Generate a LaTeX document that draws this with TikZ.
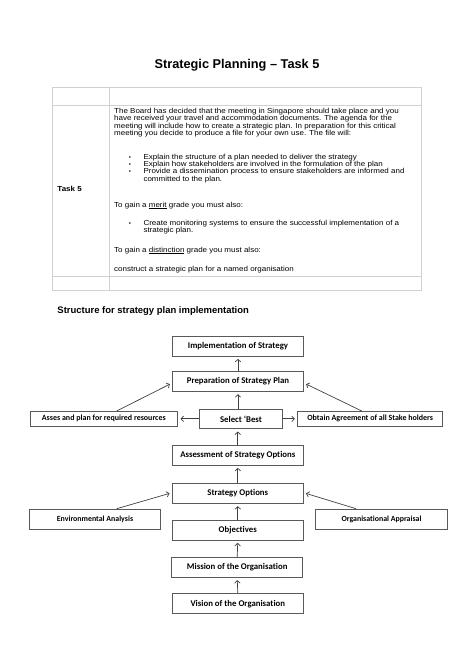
\documentclass[tikz,border=0pt]{standalone}
\usepackage{fontspec}
\setmainfont{Liberation Sans}
\newfontfamily\bodyfont[FakeStretch=1.1]{Liberation Sans}
\newfontfamily\calib[Ligatures=NoCommon]{Carlito}
\usetikzlibrary{arrows.meta}
\definecolor{tblline}{gray}{0.82}
\definecolor{boxline}{gray}{0.35}
\definecolor{arrline}{gray}{0.25}
\tikzset{
  bodytxt/.style={anchor=base west, inner sep=0pt, font=\bodyfont\fontsize{7.3}{8.5}\selectfont},
  bultxt/.style={anchor=base, inner sep=0pt, font=\fontsize{6}{8}\selectfont},
  flowbox/.style={draw=boxline, line width=0.7bp, inner sep=0pt, text=black,
    font=\calib\bfseries\fontsize{8.8}{11}\selectfont, minimum height=20bp, minimum width=131bp},
  smallbox/.style={flowbox, minimum height=15bp, font=\calib\bfseries\fontsize{8}{9}\selectfont},
  sidebox/.style={flowbox, minimum height=20.3bp, minimum width=131.4bp, font=\calib\bfseries\fontsize{7.9}{9}\selectfont},
  flowarr/.style={draw=arrline, line width=0.7bp, -{Straight Barb[length=2.6bp,width=5.5bp]}, shorten >=2.5bp},
}
\begin{document}
\begin{tikzpicture}[x=1bp,y=-1bp]
\useasboundingbox[fill=white] (0,0) rectangle (474,670);
% title
\node[anchor=base, inner sep=0pt, font=\bfseries\fontsize{12.8}{15}\selectfont] (title) at (237,69) {Strategic Planning – Task 5};
% table
\coordinate (tl) at (52.3,87.7);
\coordinate (br) at (421.7,290);
\draw[tblline, line width=0.6bp] (tl) rectangle (br);
\draw[tblline, line width=0.6bp] (109.3,87.7) -- (109.3,290);
\draw[tblline, line width=0.6bp] (52.3,105) -- (421.7,105);
\draw[tblline, line width=0.6bp] (52.3,276) -- (421.7,276);
\node[bodytxt, font=\bodyfont\bfseries\fontsize{7.3}{9}\selectfont] (task) at (57.3,191.7) {Task 5};
\node[bodytxt] (l1) at (114,113.3) {The Board has decided that the meeting in Singapore should take place and you};
\node[bodytxt] (l2) at (114,120.7) {have received your travel and accommodation documents. The agenda for the};
\node[bodytxt] (l3) at (114,128.1) {meeting will include how to create a strategic plan. In preparation for this critical};
\node[bodytxt] (l4) at (114,135.5) {meeting you decide to produce a file for your own use. The file will:};
\node[bultxt] (b1) at (130,159) {•};
\node[bodytxt] (t1) at (143.3,159) {Explain the structure of a plan needed to deliver the strategy};
\node[bultxt] (b2) at (130,166.4) {•};
\node[bodytxt] (t2) at (143.3,166.4) {Explain how stakeholders are involved in the formulation of the plan};
\node[bultxt] (b3) at (130,173.8) {•};
\node[bodytxt] (t3) at (143.3,173.8) {Provide a dissemination process to ensure stakeholders are informed and};
\node[bodytxt] (t3b) at (143.3,181.2) {committed to the plan.};
\node[bodytxt] (m1) at (114,207) {To gain a \underline{merit} grade you must also:};
\node[bultxt] (b4) at (130,225.4) {•};
\node[bodytxt] (t4) at (143.3,225.4) {Create monitoring systems to ensure the successful implementation of a};
\node[bodytxt] (t4b) at (143.3,232.8) {strategic plan.};
\node[bodytxt] (d1) at (114,252.2) {To gain a \underline{distinction} grade you must also:};
\node[bodytxt] (c1) at (114,271.3) {construct a strategic plan for a named organisation};
% heading
\node[anchor=base west, inner sep=0pt, font=\bfseries\fontsize{9.5}{11}\selectfont] (head) at (57.3,313.6) {Structure for strategy plan implementation};
% diagram
\node[flowbox] (impl) at (238,346) {Implementation of Strategy};
\node[flowbox] (prep) at (238,381.3) {Preparation of Strategy Plan};
\node[flowbox, minimum width=83.4bp, minimum height=19.7bp] (sel) at (241,418.8) {Select ‘Best};
\node[smallbox, minimum width=147.7bp] (asses) at (103.8,418.8) {Asses and plan for required resources};
\node[smallbox, minimum width=145bp] (obt) at (370.2,418.8) {Obtain Agreement of all Stake holders};
\node[flowbox] (assess) at (237.8,455) {Assessment of Strategy Options};
\node[flowbox] (strat) at (237.8,493.3) {Strategy Options};
\node[sidebox] (env) at (95,519.2) {Environmental Analysis};
\node[sidebox] (org) at (381.5,519.2) {Organisational Appraisal};
\node[flowbox] (obj) at (237.8,530) {Objectives};
\node[flowbox] (mis) at (237.2,567.3) {Mission of the Organisation};
\node[flowbox] (vis) at (237.8,603.7) {Vision of the Organisation};
% connectors
\draw[flowarr] (prep.north) -- (impl.south);
\draw[flowarr] (sel.north -| prep.north) -- (prep.south);
\draw[flowarr] (assess.north) -- (assess.north |- sel.south);
\draw[flowarr] (strat.north) -- (assess.south);
\draw[flowarr] (obj.north) -- (strat.south);
\draw[flowarr] (mis.north) -- (obj.south);
\draw[flowarr] (vis.north) -- (mis.south);
\draw[flowarr] (sel.west) -- (asses.east);
\draw[flowarr] (sel.east) -- (obt.west);
\draw[flowarr] ([xshift=13bp]asses.north) -- ([yshift=-1.7bp]prep.west);
\draw[flowarr] ([xshift=-8.5bp]obt.north) -- ([yshift=-1.7bp]prep.east);
\draw[flowarr] ([xshift=21.7bp]env.north) -- ([yshift=0.6bp]strat.west);
\draw[flowarr] ([xshift=-25.5bp]org.north) -- ([yshift=0.6bp]strat.east);
\end{tikzpicture}
\end{document}
